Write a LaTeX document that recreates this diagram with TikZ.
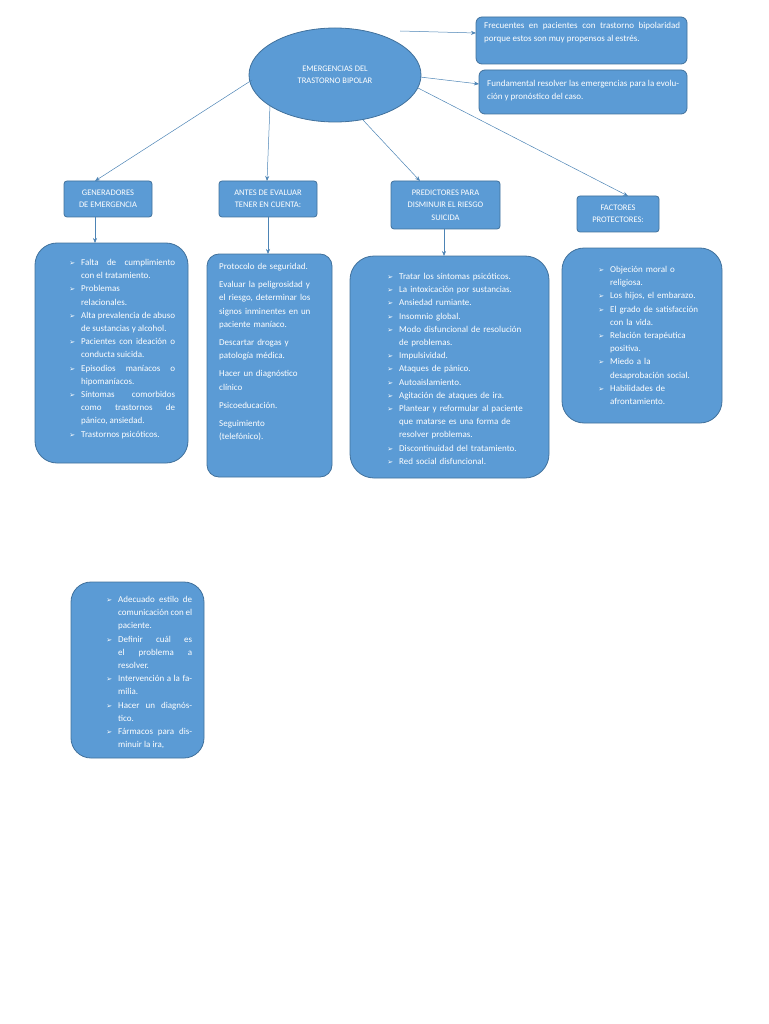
\documentclass[tikz,border=0pt]{standalone}
\usepackage{fontspec}
\setmainfont{Carlito}
\newfontfamily\dvs{DejaVu Sans}
\usetikzlibrary{shapes.geometric,arrows.meta}
\definecolor{bfill}{HTML}{5B9BD5}
\definecolor{bdraw}{HTML}{41719C}
\newcommand{\bul}{{\dvs\fontsize{7}{7}\selectfont ➢}}
\newenvironment{blist}[1]{\begin{list}{\bul}{\leftmargin=#1\labelwidth=10pt\labelsep=6pt\itemsep=0pt\parsep=0pt\topsep=0pt\partopsep=0pt}}{\end{list}}
\begin{document}
\begin{tikzpicture}[x=1pt,y=-1pt,
  box/.style={draw=bdraw,fill=bfill,rounded corners=#1,line width=0.8pt},
  box/.default=6pt,
  txt/.style={anchor=north west,inner sep=0pt,text=white,font=\fontsize{9}{13.2}\selectfont,align=justify},
  hd/.style={text=white,font=\fontsize{8.5}{12.5}\selectfont,align=center,inner sep=0pt},
  arr/.style={draw=bfill!85!black,line width=0.5pt,-{Stealth[length=5pt,width=4pt]}}]
\useasboundingbox (0,0) rectangle (768,1024);
% top
\node[ellipse,draw=bdraw,fill=bfill,line width=0.8pt,minimum width=172pt,minimum height=94pt,hd] (root) at (335,75) {EMERGENCIAS DEL\\TRASTORNO BIPOLAR};
\draw[box] (476,17) rectangle (687,64); \node[box,draw=none,fill=none] (f1) at (581.5,40.5) {};
\node[txt,text width=196pt] at (484,22) {Frecuentes en pacientes con trastorno bipolaridad porque estos son muy propensos al estrés.};
\draw[box] (479,70) rectangle (687,114); \node (f2) at (583,92) {};
\node[txt,text width=192pt] at (487,80) {Fundamental resolver las emergencias para la evolución y pronóstico del caso.};
% headers
\draw[box=3pt] (64,181) rectangle (152,217); \node[hd] (g) at (108,199) {GENERADORES\\DE EMERGENCIA};
\draw[box=3pt] (219,181) rectangle (317,217); \node[hd] (a) at (268,199) {ANTES DE EVALUAR\\TENER EN CUENTA:};
\draw[box=3pt] (391,181) rectangle (500,229); \node[hd] (p) at (445.5,205) {PREDICTORES PARA\\DISMINUIR EL RIESGO\\SUICIDA};
\draw[box=3pt] (577,196) rectangle (659,232); \node[hd] (fp) at (618,214) {FACTORES\\PROTECTORES:};
% list boxes
\draw[box=22pt] (35,243) rectangle (188,463); \coordinate (l1) at (95,243);
\draw[box=12pt] (207,254) rectangle (332,477); \coordinate (l2) at (268,254);
\draw[box=24pt] (350,256) rectangle (549,478); \coordinate (l3) at (444,256);
\draw[box=22pt] (562,248) rectangle (722,423);
\draw[box=20pt] (71,582) rectangle (204,758);
% arrows
\coordinate (r1) at (400,31); \coordinate (t1) at (476,33);
\coordinate (r2) at (420,77); \coordinate (t2) at (479,84);
\draw[arr] (r1) -- (t1);
\draw[arr] (r2) -- (t2);
\coordinate (e1) at (252,80); \coordinate (g1) at (95,181);
\coordinate (e2) at (270,105); \coordinate (a1) at (267,181);
\coordinate (e3) at (363,120); \coordinate (p1) at (420,181);
\coordinate (e4) at (418,88); \coordinate (q1) at (628,196);
\draw[arr] (e1) -- (g1);
\draw[arr] (e2) -- (a1);
\draw[arr] (e3) -- (p1);
\draw[arr] (e4) -- (q1);
\coordinate (g2) at (95,217); \coordinate (a2) at (268,217); \coordinate (p2) at (444,229);
\draw[arr] (g2) -- (l1);
\draw[arr] (a2) -- (l2);
\draw[arr] (p2) -- (l3);
% list texts
\node[txt,text width=111pt] (t1x) at (64,252) {\begin{blist}{17pt}
\item Falta de cumplimiento con el tratamiento.
\item Problemas\newline relacionales.
\item Alta prevalencia de abuso de sustancias y alcohol.
\item Pacientes con ideación o conducta suicida.
\item Episodios maníacos o hipomaníacos.
\item Síntomas comorbidos como trastornos de pánico, ansiedad.
\item Trastornos psicóticos.
\end{blist}};
\node[txt,text width=102pt,align=left] (t2x) at (219,263) {Protocolo de seguridad.\\[5pt]
Evaluar la peligrosidad y el riesgo, determinar los signos inminentes en un paciente maníaco.\\[5pt]
Descartar drogas y\\patología médica.\\[5pt]
Hacer un diagnóstico\\clínico\\[5pt]
Psicoeducación.\\[5pt]
Seguimiento\\(telefónico).};
\node[txt,text width=149pt,align=left] (t3x) at (383,266) {\begin{blist}{16pt}\raggedright
\item Tratar los síntomas psicóticos.
\item La intoxicación por sustancias.
\item Ansiedad rumiante.
\item Insomnio global.
\item Modo disfuncional de resolución de problemas.
\item Impulsividad.
\item Ataques de pánico.
\item Autoaislamiento.
\item Agitación de ataques de ira.
\item Plantear y reformular al paciente que matarse es una forma de resolver problemas.
\item Discontinuidad del tratamiento.
\item Red social disfuncional.
\end{blist}};
\node[txt,text width=112pt,align=left] (t4x) at (595,259) {\begin{blist}{15pt}\raggedright
\item Objeción moral o religiosa.
\item Los hijos, el embarazo.
\item El grado de satisfacción con la vida.
\item Relación terapéutica positiva.
\item Miedo a la desaprobación social.
\item Habilidades de afrontamiento.
\end{blist}};
\node[txt,text width=89pt] (t5x) at (103,589) {\begin{blist}{15pt}
\item Adecuado estilo de comunicación con el paciente.
\item Definir cuál es el problema a resolver.
\item Intervención a la familia.
\item Hacer un diagnóstico.
\item Fármacos para disminuir la ira,
\end{blist}};
\end{tikzpicture}
\end{document}
